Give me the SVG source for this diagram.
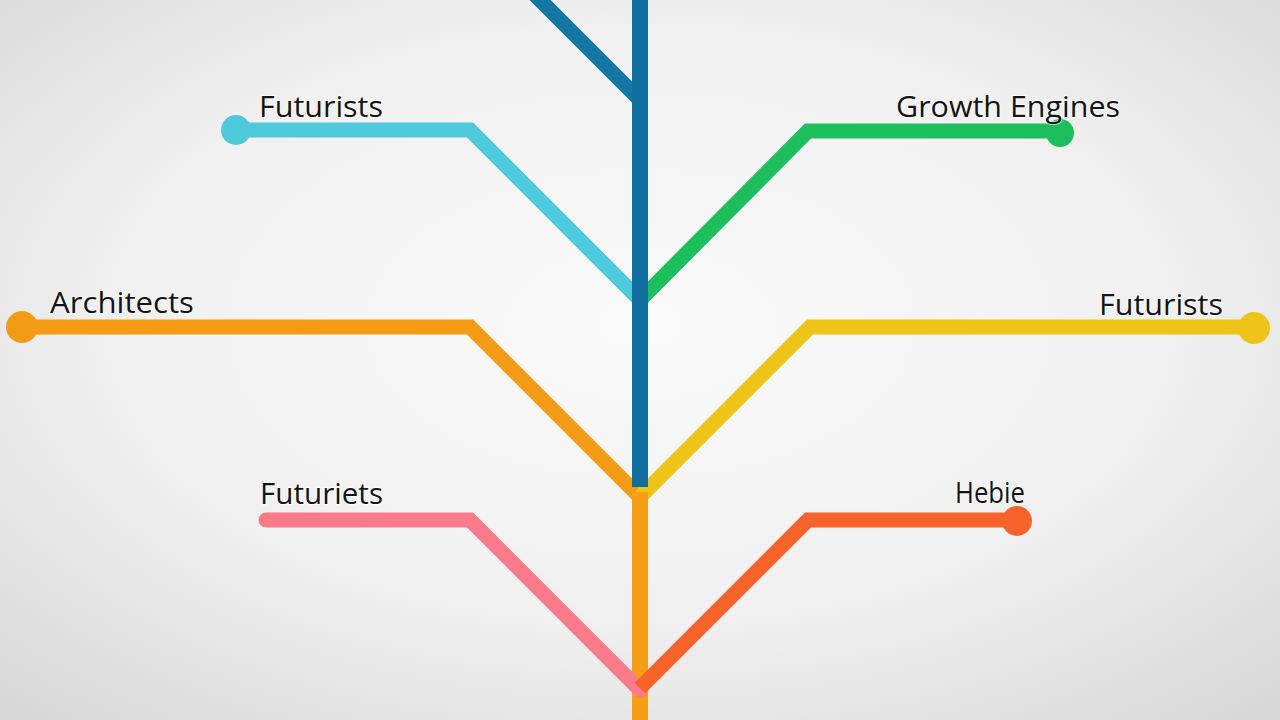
<svg xmlns="http://www.w3.org/2000/svg" width="1280" height="720" viewBox="0 0 1280 720">
  <defs>
    <radialGradient id="bg" cx="50%" cy="45%" r="75%">
      <stop offset="0" stop-color="#fafafa"/>
      <stop offset="0.55" stop-color="#f0f0f0"/>
      <stop offset="1" stop-color="#d6d6d6"/>
    </radialGradient>
    <style>
      .line { fill: none; stroke-width: 15; stroke-linecap: butt; stroke-linejoin: miter; }
      .cap { stroke-linecap: round; }
      .trunk { fill: none; stroke-width: 16; stroke-linecap: butt; }
      .lbl { font-family: "Open Sans", "Noto Sans", "DejaVu Sans", sans-serif; font-size: 30px; font-weight: 500; fill: #141414; stroke: #ffffff; stroke-width: 2; stroke-opacity: 0.6; paint-order: stroke; }
    </style>
  </defs>
  <rect x="0" y="0" width="1280" height="720" fill="url(#bg)"/>

  <g id="connectors">
    <path class="line" d="M535,-5 L640,100" stroke="#1577a6"/>
    <path class="line" d="M236,130 H470 L638,298" stroke="#4fc9dc"/>
    <path class="line" d="M1060,131 H808 L642,298" stroke="#1cbf5c"/>
    <path class="line" d="M22,327 H470 L640,497" stroke="#f39b14"/>
    <path class="line" d="M1254,327 H810 L640,497" stroke="#eec418"/>
    <path class="trunk" d="M640,0 V487" stroke="#0f6e9e"/>
    <path class="trunk" d="M640,492 V720" stroke="#f59e16"/>
    <path class="line cap" d="M266,520 H470 L640,690" stroke="#fb7b8b"/>
    <path class="line" d="M1017,520 H808 L640,688" stroke="#f6632b"/>
  </g>

  <g id="node-futurists-top">
    <circle cx="236" cy="130" r="15" fill="#4fc9dc"/>
    <text class="lbl" x="259" y="117" textLength="124" lengthAdjust="spacingAndGlyphs">Futurists</text>
  </g>
  <g id="node-growth-engines">
    <circle cx="1060" cy="133" r="14" fill="#1cbf5c"/>
    <text class="lbl" x="896" y="117" textLength="224" lengthAdjust="spacingAndGlyphs">Growth Engines</text>
  </g>
  <g id="node-architects">
    <circle cx="22" cy="327" r="16" fill="#f39b14"/>
    <text class="lbl" x="50" y="313" textLength="144" lengthAdjust="spacingAndGlyphs">Architects</text>
  </g>
  <g id="node-futurists-right">
    <circle cx="1254" cy="328" r="16" fill="#eec418"/>
    <text class="lbl" x="1099" y="315" textLength="124" lengthAdjust="spacingAndGlyphs">Futurists</text>
  </g>
  <g id="node-futuriets">
    <text class="lbl" x="260" y="504" textLength="123" lengthAdjust="spacingAndGlyphs">Futuriets</text>
  </g>
  <g id="node-hebie">
    <circle cx="1017" cy="521" r="15" fill="#f6632b"/>
    <text class="lbl" x="955" y="503" textLength="70" lengthAdjust="spacingAndGlyphs">Hebie</text>
  </g>
</svg>
